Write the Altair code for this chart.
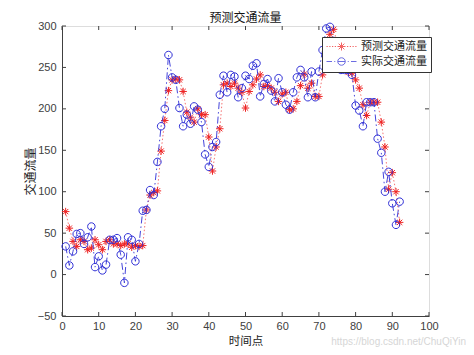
import altair as alt
import pandas as pd

# ---------------- data ----------------
x_vals = list(range(1, 93))
predicted = [76, 56, 40, 34, 42, 40, 30, 32, 42, 36,
             30, 40, 42, 37, 37, 35, 37, 37, 33, 35,
             34, 35, 78, 96, 99, 101, 149, 186, 222, 235,
             236, 235, 221, 196, 190, 184, 200, 193, 193, 166,
             125, 154, 176, 229, 231, 227, 231, 225, 220, 201,
             221, 229, 236, 241, 227, 228, 225, 220, 209, 218,
             220, 199, 200, 209, 228, 242, 225, 231, 215, 215,
             241, 262, 290, 296, 280, 262, 250, 244, 243, 235,
             225, 205, 192, 208, 208, 208, 184, 154, 103, 123,
             100, 63]
actual = [34, 11, 28, 49, 50, 37, 45, 58, 9, 22,
          5, 12, 42, 42, 44, 24, -10, 45, 42, 16,
          37, 77, 78, 102, 96, 136, 179, 200, 265, 238,
          235, 201, 179, 193, 182, 203, 199, 184, 145, 130,
          154, 160, 217, 240, 220, 241, 239, 214, 225, 240,
          236, 252, 255, 215, 230, 236, 222, 209, 237, 220,
          205, 199, 220, 238, 247, 238, 214, 245, 214, 245,
          271, 297, 299, 282, 262, 247, 247, 247, 241, 204,
          198, 179, 208, 208, 208, 164, 147, 100, 124, 86,
          60, 88]
x_ticks = list(range(0, 101, 10))
y_ticks = list(range(-50, 301, 50))
series_names = ["预测交通流量", "实际交通流量"]

# ---------------- style ----------------
W, H = 367, 290
RED = "#ee2222"
BLUE = "#2f2fd6"
AX = "#404040"
CJK = "Noto Sans CJK SC"
LAT = "Liberation Sans"

ASTER = "M0,-1L0,1M-1,0L1,0M-0.71,-0.71L0.71,0.71M-0.71,0.71L0.71,-0.71"
CIRC = "M1,0A1,1 0 1,1 -1,0A1,1 0 1,1 1,0Z"

LEG_PRED = ("M-3,0L-2.75,0M-2.45,0L-2.2,0M-1.9,0L-1.65,0M-1.35,0L-1.1,0"
            "M1.1,0L1.35,0M1.65,0L1.9,0M2.2,0L2.45,0M2.75,0L3,0"
            "M0,-0.8L0,0.8M-0.8,0L0.8,0M-0.57,-0.57L0.57,0.57M-0.57,0.57L0.57,-0.57")
LEG_ACT = ("M-3,0L-1.9,0M-1.45,0L-1.25,0M-0.75,0L0.75,0M1.25,0L1.45,0M1.9,0L3,0"
           "M0.75,0A0.75,0.75 0 1,1 -0.75,0A0.75,0.75 0 1,1 0.75,0Z")

pred_df = pd.DataFrame({"x": x_vals, "y": predicted})
act_df = pd.DataFrame({"x": x_vals, "y": actual})

xs = alt.Scale(domain=[0, 100], nice=False, zero=False)
ys = alt.Scale(domain=[-50, 300], nice=False, zero=False)

X = alt.X("x:Q", scale=xs, axis=alt.Axis(values=x_ticks, title="时间点", ticks=False,
                                         labelPadding=4, titlePadding=4,
                                         labelFont=LAT, labelFontSize=11, labelColor=AX,
                                         titleFont=CJK, titleFontSize=11.5, titleFontWeight="normal",
                                         titleColor="#222", domainColor=AX, grid=False,
                                         labelFlush=False))
Y = alt.Y("y:Q", scale=ys, axis=alt.Axis(values=y_ticks, title="交通流量", ticks=False,
                                         labelPadding=6, titlePadding=0,
                                         labelFont=LAT, labelFontSize=11, labelColor=AX,
                                         titleFont=CJK, titleFontSize=12, titleFontWeight="normal",
                                         titleColor="#222", domainColor=AX, grid=False,
                                         labelFlush=False))

pred_line = alt.Chart(pred_df).mark_line(color=RED, strokeWidth=0.8, strokeDash=[1.5, 2.2],
                                         opacity=0.8).encode(x=X, y=Y)
pred_pts = alt.Chart(pred_df).mark_point(shape=ASTER, filled=False, color=RED, size=56,
                                         strokeWidth=1, opacity=1).encode(x=X, y=Y)
act_line = alt.Chart(act_df).mark_line(color=BLUE, strokeWidth=0.9,
                                       strokeDash=[7, 3, 1.5, 3]).encode(x=X, y=Y)
act_pts = alt.Chart(act_df).mark_point(shape=CIRC, filled=False, color=BLUE, size=56,
                                       strokeWidth=1, opacity=1).encode(x=X, y=Y)

# inward ticks on all four sides
xt_df = pd.DataFrame({"x": x_ticks})
yt_df = pd.DataFrame({"y": y_ticks})
tick_bot = alt.Chart(xt_df).mark_rule(color=AX, strokeWidth=1).encode(
    x=X, y=alt.value(H), y2=alt.value(H - 4))
tick_top = alt.Chart(xt_df).mark_rule(color=AX, strokeWidth=1).encode(
    x=X, y=alt.value(0), y2=alt.value(4))
tick_left = alt.Chart(yt_df).mark_rule(color=AX, strokeWidth=1).encode(
    y=Y, x=alt.value(0), x2=alt.value(4))
tick_right = alt.Chart(yt_df).mark_rule(color=AX, strokeWidth=1).encode(
    y=Y, x=alt.value(W), x2=alt.value(W - 4))

# legend-only layer
leg_df = pd.DataFrame({"series": series_names, "x": [0, 0], "y": [0, 0]})
legend_def = alt.Legend(title=None, orient="none", legendX=260, legendY=11,
                        fillColor="white", strokeColor="#333", padding=4,
                        symbolSize=100, symbolStrokeWidth=1, symbolOffset=10,
                        labelOffset=14, labelFont=CJK, labelFontSize=11,
                        labelColor="#222", rowPadding=2)
leg_layer = alt.Chart(leg_df).transform_filter("datum.x > 1000").mark_point(
    filled=False, strokeWidth=1).encode(
    x=X, y=Y,
    shape=alt.Shape("series:N", scale=alt.Scale(domain=series_names, range=[LEG_PRED, LEG_ACT]),
                    legend=legend_def),
    color=alt.Color("series:N", scale=alt.Scale(domain=series_names, range=[RED, BLUE]),
                    legend=legend_def),
)

wm = alt.Chart(pd.DataFrame({"t": ["https://blog.csdn.net/ChuQiYin"]})).mark_text(
    align="right", baseline="middle", font=LAT, fontSize=10, color="#d6d6d6").encode(
    text="t:N", x=alt.value(W + 37), y=alt.value(H + 26))

chart = alt.layer(
    tick_bot, tick_top, tick_left, tick_right,
    pred_line, pred_pts, act_line, act_pts, leg_layer, wm
).properties(
    width=W, height=H,
    title=alt.TitleParams("预测交通流量", font=CJK, fontSize=12, fontWeight="normal",
                          color="#111", offset=5, dy=10),
    padding={"left": 54, "top": 18, "right": 37, "bottom": 31},
    autosize=alt.AutoSizeParams(type="none"),
).configure_view(stroke=AX, strokeWidth=1).configure(background="white")

chart.save("out.html", embed_options={"renderer": "svg", "actions": False})
